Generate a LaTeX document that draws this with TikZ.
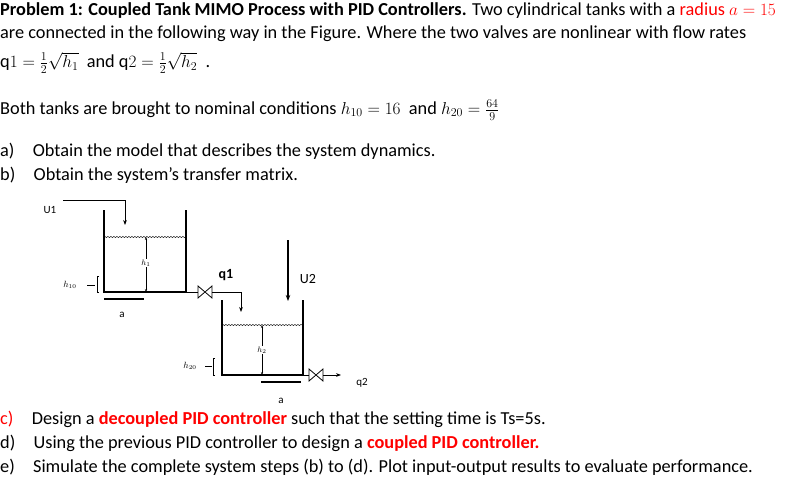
\documentclass[tikz,border=0pt]{standalone}
\usepackage{amsmath}
\usepackage{fontspec}
\setmainfont{Carlito}
\usetikzlibrary{arrows.meta,decorations.pathmorphing}
\begin{document}
\begin{tikzpicture}[x=1pt,y=-1pt,
 txt/.style={anchor=west,inner sep=0pt,font=\fontsize{18.3}{20}\selectfont},
 lab/.style={inner sep=0pt,font=\fontsize{11}{12}\selectfont},
 wall/.style={line width=1.1pt},
 arr/.style={-{Stealth[length=5pt]},line width=0.8pt},
 harr/.style={{Stealth[length=3pt]}-{Stealth[length=3pt]},line width=0.5pt},
 water/.style={decorate,decoration={snake,amplitude=0.6pt,segment length=3pt},line width=0.4pt}]
\useasboundingbox (0,0) rectangle (801,482);
\definecolor{rd}{RGB}{255,0,0}
\node[txt] (l1) at (0,11) {\textbf{Problem 1: Coupled Tank MIMO Process with PID Controllers.} Two cylindrical tanks with a \textcolor{rd}{radius $a=15$}};
\node[txt] (l2) at (0,34) {are connected in the following way in the Figure. Where the two valves are nonlinear with flow rates};
\node[txt] (l3) at (0,63) {$\mathrm{q}1=\tfrac{1}{2}\sqrt{h_1}$ \ and $\mathrm{q}2=\tfrac{1}{2}\sqrt{h_2}$ \ .};
\node[txt] (l4) at (0,110) {Both tanks are brought to nominal conditions $h_{10}=16$ \ and $h_{20}=\tfrac{64}{9}$};
\node[txt] (l5) at (0,151) {a)\quad Obtain the model that describes the system dynamics.};
\node[txt] (l6) at (0,175) {b)\quad Obtain the system’s transfer matrix.};
\node[txt] (l7) at (0,419) {\textcolor{rd}{c)}\quad Design a \textcolor{rd}{\textbf{decoupled PID controller}} such that the setting time is Ts=5s.};
\node[txt] (l8) at (0,443) {d)\quad Using the previous PID controller to design a \textcolor{rd}{\textbf{coupled PID controller.}}};
\node[txt] (l9) at (0,467) {e)\quad Simulate the complete system steps (b) to (d). Plot input-output results to evaluate performance.};
% tank 1
\draw[wall] (104,210) -- (104,292) -- (186,292) -- (186,210);
\draw[water] (104,237) -- (186,237);
\draw[harr] (146,237) -- (146,292);
\node[fill=white,inner sep=0.5pt,font=\footnotesize] (h1) at (146,263) {$h_1$};
\draw[line width=1.4pt] (104,299) -- (144,299);
\node[lab] (a1) at (122,315) {a};
\node[lab] (u1) at (50,210) {U1};
\coordinate (u1s) at (63,200);
\draw[arr] (u1s) -- (125,200) -- (125,225);
\node[font=\small] (h10) at (70,285) {$h_{10}$};
\draw[line width=0.7pt] (87,285) -- (95,285) (99,276) -- (97,276) -- (97,292) -- (99,292);
% valve 1
\draw[line width=0.8pt] (186,292) -- (198,292);
\draw[line width=0.8pt] (198,286) -- (198,298) -- (212,286) -- (212,298) -- cycle;
\draw[line width=0.8pt] (212,292) -- (241,292);
\draw[arr] (241,292) -- (241,312);
\node[font=\bfseries\fontsize{14}{16}\selectfont] (q1) at (226,275) {q1};
% U2
\draw[-{Stealth[length=6pt]},line width=1.3pt] (288,240) -- (288,301);
\node[font=\fontsize{14}{16}\selectfont] (u2) at (308,279) {U2};
% tank 2
\draw[wall] (222,300) -- (222,375) -- (303,375) -- (303,300);
\draw[water] (222,325) -- (303,325);
\draw[harr] (262,325) -- (262,375);
\node[fill=white,inner sep=0.5pt,font=\footnotesize] (h2) at (262,350) {$h_2$};
\draw[line width=1.4pt] (261,382) -- (301,382);
\node[lab] (a2) at (281,401) {a};
\node[font=\small] (h20) at (190,366) {$h_{20}$};
\draw[line width=0.7pt] (205,366) -- (212,366) (215,358) -- (213,358) -- (213,375) -- (215,375);
% valve 2
\draw[line width=0.8pt] (309,369) -- (309,381) -- (323,369) -- (323,381) -- cycle;
\draw[line width=0.8pt] (303,375) -- (309,375);
\draw[arr] (323,375) -- (341,375);
\node[lab] (q2) at (362,383) {q2};
\end{tikzpicture}
\end{document}
